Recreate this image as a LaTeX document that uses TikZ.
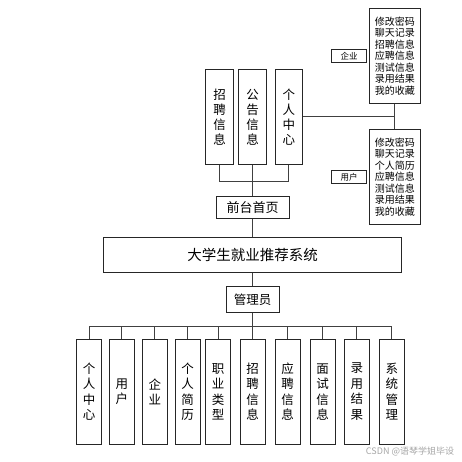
\documentclass[tikz,border=0pt]{standalone}
\usepackage{fontspec}
\setmainfont{Noto Sans CJK SC}
\begin{document}
\begin{tikzpicture}[x=1pt, y=-1pt,
                    every node/.style={draw=black!85, line width=0.9pt, fill=white, inner sep=0pt, align=center},
                    tallbox/.style={minimum width=27.6pt, minimum height=95pt, font=\fontsize{12.5}{15}\selectfont},
                    leafbox/.style={minimum width=25pt, minimum height=105pt, font=\fontsize{12.5}{15.5}\selectfont},
                    listbox/.style={minimum width=51.7pt, minimum height=95pt, font=\fontsize{10}{11.5}\selectfont},
                    tagbox/.style={minimum width=35pt, minimum height=13pt, font=\fontsize{8.5}{10}\selectfont},
                    link/.style={draw=black!75, line width=0.9pt}
                ]
                \useasboundingbox (0,0) rectangle (462,462);
                \node[tallbox] (zpxx) at (219.5,116.8) {招\\聘\\信\\息};
                \node[tallbox] (ggxx) at (252.7,116.8) {公\\告\\信\\息};
                \node[tallbox] (grzx) at (288.8,116.8) {个\\人\\中\\心};
                \node[minimum width=73pt, minimum height=22.3pt, font=\fontsize{13}{15}\selectfont] (qtsy) at (252.7,207.2) {前台首页};
                \node[minimum width=298.4pt, minimum height=35pt, font=\fontsize{14.5}{16}\selectfont] (xitong) at (252.7,254.8) {大学生就业推荐系统};
                \node[minimum width=52.6pt, minimum height=26pt, font=\fontsize{12.5}{15}\selectfont] (gly) at (252.7,299.7) {管理员};
                \node[listbox] (qylist) at (394.8,55.8) {修改密码\\聊天记录\\招聘信息\\应聘信息\\测试信息\\录用结果\\我的收藏};
                \node[tagbox] (qytag) at (349.2,55.8) {企业};
                \node[listbox] (yhlist) at (394.8,177) {修改密码\\聊天记录\\个人简历\\应聘信息\\测试信息\\录用结果\\我的收藏};
                \node[tagbox] (yhtag) at (349.2,177) {用户};
                \foreach \x/\n/\lbl in {89.2/m1/{个\\人\\中\\心}, 121.8/m2/{用\\户}, 154.8/m3/{企\\业},
                                        187.5/m4/{个\\人\\简\\历}, 218.2/m5/{职\\业\\类\\型}, 252.7/m6/{招\\聘\\信\\息},
                                        287.5/m7/{应\\聘\\信\\息}, 322.5/m8/{面\\试\\信\\息}, 356.8/m9/{录\\用\\结\\果},
                                        391.8/m10/{系\\统\\管\\理}}
                    \node[leafbox] (\n) at (\x,391.8) {\lbl};
                \node[draw=none, fill=none, text=black!35, font=\fontsize{9}{10}\selectfont] (mark) at (410,451) {CSDN @语琴学姐毕设};
                \coordinate (busa) at (0,181.7);
                \coordinate (busb) at (0,326);
                \draw[link] (zpxx.south) -- (zpxx.south |- busa) -| (grzx.south);
                \draw[link] (ggxx.south) -- (qtsy.north);
                \draw[link] (grzx.east) -- (grzx.east -| qylist.south);
                \draw[link] (qylist.south) -- (yhlist.north);
                \draw[link] (qtsy.south) -- (xitong.north);
                \draw[link] (xitong.south) -- (gly.north);
                \draw[link] (gly.south) -- (gly.south |- busb);
                \draw[link] (m1.north |- busb) -- (m10.north |- busb);
                \foreach \n in {m1,m2,m3,m4,m5,m6,m7,m8,m9,m10}
                    \draw[link] (\n.north) -- (\n.north |- busb);
\end{tikzpicture}
\end{document}
